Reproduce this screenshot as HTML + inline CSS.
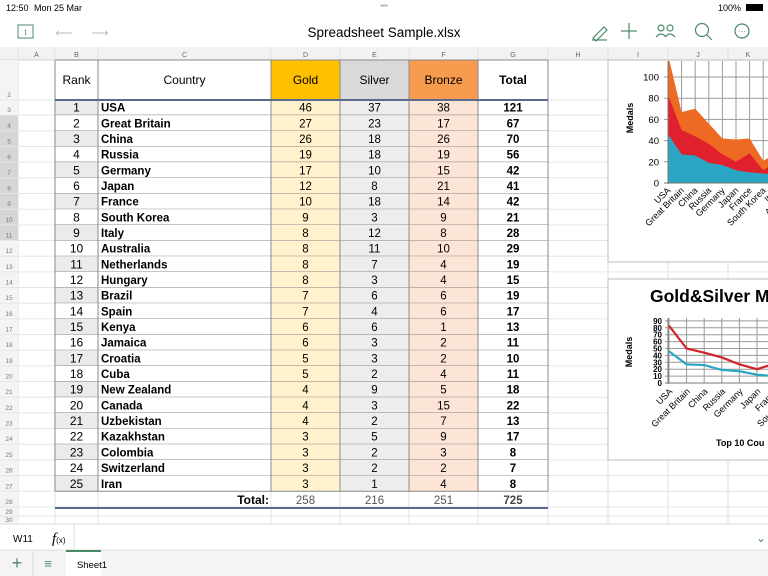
<!DOCTYPE html>
<html><head><meta charset="utf-8"><style>
html,body{margin:0;padding:0;width:768px;height:576px;overflow:hidden;background:#fff;font-family:"Liberation Sans",Arial,sans-serif}
svg text{font-family:"Liberation Sans",Arial,sans-serif}
</style></head><body>
<svg id="s" width="768" height="576" xmlns="http://www.w3.org/2000/svg"></svg>
<script>
const S=document.getElementById('s');let h='';
function R(x,y,w,hh,f,st,sw){h+=`<rect x="${x}" y="${y}" width="${w}" height="${hh}" fill="${f||'none'}" ${st?`stroke="${st}" stroke-width="${sw||1}"`:''}/>`}
function L(x1,y1,x2,y2,c,w){h+=`<line x1="${x1}" y1="${y1}" x2="${x2}" y2="${y2}" stroke="${c}" stroke-width="${w||1}"/>`}
function T(x,y,t,o){o=o||{};h+=`<text x="${x}" y="${y}" font-size="${o.s||12}" fill="${o.c||'#000'}" text-anchor="${o.a||'start'}" ${o.b?'font-weight="bold"':''} ${o.r!==undefined?`transform="rotate(${o.r} ${x} ${y})"`:''}>${t}</text>`}
// status/toolbar
T(6,11,'12:50',{s:9});T(34,11,'Mon 25 Mar',{s:9});
T(384,8,'•••',{s:7,c:'#999',a:'middle'});
T(718,11,'100%',{s:9});R(746,4,17,7,'#000');
T(384,37,'Spreadsheet Sample.xlsx',{s:13.5,a:'middle'});
R(18,25,15,13,'none','#4a8a68',1);T(25.5,35,'t',{s:8,c:'#4a8a68',a:'middle'});
T(64,37,'⟵',{s:12,c:'#bbb',a:'middle'});T(100,37,'⟶',{s:12,c:'#bbb',a:'middle'});
h+='<g stroke="#4a8a68" fill="none" stroke-width="1.2"><path d="M593 38 L604 27 L607 30 L596 41 Z"/><line x1="592" y1="40" x2="607" y2="40"/><line x1="621" y1="31" x2="637" y2="31"/><line x1="629" y1="23" x2="629" y2="39"/><circle cx="661" cy="28" r="3"/><circle cx="670" cy="28" r="3"/><path d="M656 37 Q661 31 666 37 M665 37 Q670 31 675 37"/><circle cx="702" cy="30" r="6.5"/><line x1="707" y1="35" x2="712" y2="40"/><circle cx="742" cy="31" r="7"/></g>';
T(742,34,'···',{s:8,c:'#4a8a68',a:'middle'});
// column header
const cx=[0,18,55,98,271,340,409,478,548,608,668,728,768];
R(0,47,768,13,'#f2f2f2');L(0,60,768,60,'#d0d0d0');
'ABCDEFGHIJK'.split('').forEach((c,i)=>{T((cx[i+1]+cx[i+2])/2,57,c,{s:7,c:'#666',a:'middle'})});
for(let i=1;i<cx.length-1;i++)L(cx[i],47,cx[i],524,'#e2e2e2');
// rows
const rh=15.67,r3=99.5;
function ry(r){return r==2?60:r3+(r-3)*rh}
R(0,60,18,464,'#f4f4f4');
R(0,ry(4),18,ry(12)-ry(4),'#d6d6d6');
for(let r=2;r<=30;r++){let y=r==2?100:(r<=28?ry(r+1):(r==29?516:524));L(0,y,768,y,'#e6e6e6');}
for(let r=2;r<=28;r++){let y0=ry(r),y1=r==2?100:ry(r+1);T(9,y1-3,r,{s:6.5,c:'#777',a:'middle'})}
T(9,514,'29',{s:6.5,c:'#777',a:'middle'});T(9,522,'30',{s:6.5,c:'#777',a:'middle'});
const D=[["USA",46,37,38],["Great Britain",27,23,17],["China",26,18,26],["Russia",19,18,19],["Germany",17,10,15],["Japan",12,8,21],["France",10,18,14],["South Korea",9,3,9],["Italy",8,12,8],["Australia",8,11,10],["Netherlands",8,7,4],["Hungary",8,3,4],["Brazil",7,6,6],["Spain",7,4,6],["Kenya",6,6,1],["Jamaica",6,3,2],["Croatia",5,3,2],["Cuba",5,2,4],["New Zealand",4,9,5],["Canada",4,3,15],["Uzbekistan",4,2,7],["Kazakhstan",3,5,9],["Colombia",3,2,3],["Switzerland",3,2,2],["Iran",3,1,4]];
// header row 2
R(55,60,493,40,'#fff');R(271,60,69,40,'#FFC000');R(340,60,69,40,'#D9D9D9');R(409,60,69,40,'#F79B4F');
T(76.5,84,'Rank',{s:12,a:'middle'});T(184.5,84,'Country',{s:12,a:'middle'});T(305.5,84,'Gold',{s:12,a:'middle'});T(374.5,84,'Silver',{s:12,a:'middle'});T(443.5,84,'Bronze',{s:12,a:'middle'});T(513,84,'Total',{s:12,a:'middle',b:1});
D.forEach((d,i)=>{let y=ry(i+3),yb=y+rh;
 R(55,y,43,rh,i%2==0?'#ebebeb':'#fff');R(98,y,173,rh,'#fff');R(271,y,69,rh,'#FFF2CC');R(340,y,69,rh,'#EDEDED');R(409,y,69,rh,'#FCE4D6');R(478,y,70,rh,'#fff');
 L(55,yb,548,yb,'#8a8a8a',1);
 let ty=yb-3.5;T(76.5,ty,i+1,{s:12,a:'middle'});T(101,ty,d[0],{s:11.5,b:1});
 T(305.5,ty,d[1],{s:11.5,a:'middle'});T(374.5,ty,d[2],{s:11.5,a:'middle'});T(443.5,ty,d[3],{s:11.5,a:'middle'});T(513,ty,d[1]+d[2]+d[3],{s:11.5,a:'middle',b:1});
});
[55,98,271,340,409,478,548].forEach(x=>L(x,60,x,ry(28),'#8a8a8a'));
L(55,60,548,60,'#8a8a8a');L(55,100,548,100,'#5a6a8a',2);
T(269,504,'Total:',{s:12,a:'end',b:1});T(305.5,504,'258',{s:11.5,a:'middle',c:'#555'});T(374.5,504,'216',{s:11.5,a:'middle',c:'#555'});T(443.5,504,'251',{s:11.5,a:'middle',c:'#555'});T(513,504,'725',{s:11.5,a:'middle',b:1,c:'#444'});
L(55,508,548,508,'#5a6a8a',2);
// formula bar & tabs
R(0,524,768,26,'#fff');L(0,524,768,524,'#ddd');L(0,550,768,550,'#ddd');
T(13,542,'W11',{s:10});T(52,543,'<tspan font-style="italic" font-family="Liberation Serif" font-size="15">f</tspan><tspan font-size="8">(x)</tspan>',{s:10});L(74,524,74,550,'#ddd');
T(756,542,'⌄',{s:12,c:'#4a8a68'});
R(0,550,768,26,'#f4f4f4');L(0,550,768,550,'#ddd');
T(17,569,'+',{s:18,c:'#4a8a68',a:'middle'});L(33,551,33,576,'#ddd');T(48,568,'≡',{s:13,c:'#4a8a68',a:'middle'});
R(66,551,34,25,'#fff');R(66,551,34,25,'#fff');R(66,551,34,25,'#fff');
R(66,551,35,25,'#fff');L(66,551,101,551,'#4a8a68',2);T(92,568,'Sheet1',{s:9.5,a:'middle'});R(66,551,0,0);
// chart 1
R(608,60,162,202,'#fff','#bbb');
const cats=["USA","Great Britain","China","Russia","Germany","Japan","France","South Korea","Italy","Australia","Netherlands"];
const dx=13.6,x0=668;
function px(i){return x0+i*dx}
h+='<defs><clipPath id="c1"><rect x="668" y="61" width="100" height="123"/></clipPath></defs>';
for(let v=0;v<=100;v+=20){let y=183-v*1.06;L(664,y,768,y,'#999');T(659,y+3.5,v,{s:9.5,a:'end'})}
for(let i=0;i<8;i++)L(px(i),61,px(i),183,'#999');
function area(vals,col){let p=`M${px(0)} 183 `;vals.forEach((v,i)=>p+=`L${px(i)} ${183-v*1.06} `);p+=`L${px(vals.length-1)} 183 Z`;h+=`<path d="${p}" fill="${col}" clip-path="url(#c1)"/>`}
area(D.slice(0,10).map(d=>d[1]+d[2]+d[3]),'#EE6A22');
area(D.slice(0,10).map(d=>d[1]+d[2]),'#E0202C');
area(D.slice(0,10).map(d=>d[1]),'#2AA6C4');
L(668,61,668,184,'#777');L(664,183,768,183,'#777');
T(633,118,'Medals',{s:9,b:1,a:'middle',r:-90});
cats.forEach((c,i)=>T(px(i)+3,191,c,{s:9,a:'end',r:-45}));
// chart 2
R(608,279,162,181,'#fff','#bbb');
T(650,302,'Gold&amp;Silver M',{s:17.5,b:1});
const y0=383,sc=0.69,dx2=17.6;
function px2(i){return 669+i*dx2}
for(let v=0;v<=90;v+=10){let y=y0-v*sc;L(665,y,768,y,'#999');T(662,y+3,v,{s:8,a:'end',b:1})}
for(let i=0;i<6;i++)L(px2(i),318,px2(i),383,'#999');
L(668,318,668,384,'#777');L(665,383,768,383,'#777');
function line(vals,col){let p='';vals.forEach((v,i)=>p+=(i?'L':'M')+px2(i)+' '+(y0-v*sc)+' ');h+=`<path d="${p}" fill="none" stroke="${col}" stroke-width="2.2"/>`}
line(D.slice(0,10).map(d=>d[1]+d[2]),'#D2232A');
line(D.slice(0,10).map(d=>d[1]),'#2AA6C4');
T(632,352,'Medals',{s:9,b:1,a:'middle',r:-90});
cats.forEach((c,i)=>T(px2(i)+4,392,c,{s:9,a:'end',r:-45}));
T(716,446,'Top 10 Cou',{s:9,b:1});
S.innerHTML=h;
</script>
</body></html>
